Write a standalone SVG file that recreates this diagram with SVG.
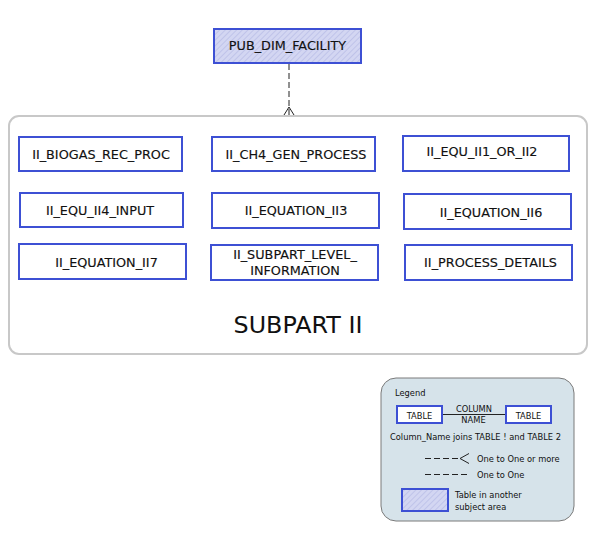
<svg xmlns="http://www.w3.org/2000/svg" width="591" height="541" viewBox="0 0 591 541">
<defs>
<pattern id="hatch" patternUnits="userSpaceOnUse" width="4" height="4" patternTransform="rotate(45)">
<rect width="4" height="4" fill="#d3d6f2"/>
<line x1="0" y1="0" x2="0" y2="4" stroke="#b9bde6" stroke-width="1.5"/>
</pattern>
<style>
.node{fill:#ffffff;stroke:#3d50d4;stroke-width:2}
.ext{fill:url(#hatch);stroke:#3d50d4;stroke-width:2}
.t{font-family:"DejaVu Sans",Verdana,sans-serif;font-size:12.8px;fill:#111;text-anchor:middle;stroke:#111;stroke-width:0.15}
.lg{font-family:"DejaVu Sans",Verdana,sans-serif;font-size:8.3px;fill:#111}
.conn{fill:none;stroke:#222;stroke-width:1}
.dash{stroke-dasharray:6,3}
</style>
</defs>
<rect width="591" height="541" fill="#ffffff"/>
<g id="subpart-ii">
<rect x="9" y="116" width="578" height="238" rx="10" fill="#ffffff" stroke="#c8c8c8" stroke-width="2"/>
<text x="298" y="333" font-family="DejaVu Sans,Verdana,sans-serif" font-size="23.8" fill="#111" text-anchor="middle">SUBPART II</text>
</g>
<g id="pub-dim-facility">
<rect class="ext" x="214" y="29" width="147" height="34"/>
<text class="t" x="287.5" y="49.5">PUB_DIM_FACILITY</text>
</g>
<g id="connectors">
<line class="conn dash" x1="289" y1="64" x2="289" y2="115"/>
<polyline class="conn" points="284,115 289,107 294,115"/>
</g>
<g id="ii-biogas-rec-proc"><rect class="node" x="19" y="137" width="163" height="34"/><text class="t" x="101" y="158.5">II_BIOGAS_REC_PROC</text></g>
<g id="ii-ch4-gen-process"><rect class="node" x="212" y="137" width="163" height="34"/><text class="t" x="296" y="158.5">II_CH4_GEN_PROCESS</text></g>
<g id="ii-equ-ii1-or-ii2"><rect class="node" x="403" y="136" width="166" height="35"/><text class="t" x="482" y="156">II_EQU_II1_OR_II2</text></g>
<g id="ii-equ-ii4-input"><rect class="node" x="20" y="193" width="163" height="34"/><text class="t" x="100" y="214.5">II_EQU_II4_INPUT</text></g>
<g id="ii-equation-ii3"><rect class="node" x="212" y="193" width="167" height="35"/><text class="t" x="296" y="214.5">II_EQUATION_II3</text></g>
<g id="ii-equation-ii6"><rect class="node" x="404" y="194" width="167" height="35"/><text class="t" x="491" y="216.5">II_EQUATION_II6</text></g>
<g id="ii-equation-ii7"><rect class="node" x="19" y="244" width="167" height="35"/><text class="t" x="106.5" y="267">II_EQUATION_II7</text></g>
<g id="ii-subpart-level-information"><rect class="node" x="211" y="245" width="167" height="35"/><text class="t" x="295" y="259">II_SUBPART_LEVEL_</text><text class="t" x="295" y="275">INFORMATION</text></g>
<g id="ii-process-details"><rect class="node" x="405" y="245" width="167" height="35"/><text class="t" x="490.5" y="266.5">II_PROCESS_DETAILS</text></g>
<g id="legend">
<rect x="381" y="378" width="193" height="143" rx="15" fill="#d6e3ea" stroke="#7a7a7a" stroke-width="1"/>
<text class="lg" x="395" y="396">Legend</text>
<rect x="397" y="406" width="45" height="17" fill="#ffffff" stroke="#3d50d4" stroke-width="2"/>
<text class="lg" x="419.5" y="418.5" text-anchor="middle" font-size="10.5">TABLE</text>
<rect x="506" y="406" width="45" height="17" fill="#ffffff" stroke="#3d50d4" stroke-width="2"/>
<text class="lg" x="528.5" y="418.5" text-anchor="middle" font-size="10.5">TABLE</text>
<line x1="443" y1="414.5" x2="505" y2="414.5" stroke="#222" stroke-width="1"/>
<text class="lg" x="474" y="412" text-anchor="middle">COLUMN</text>
<text class="lg" x="473.5" y="423" text-anchor="middle">NAME</text>
<text class="lg" x="390" y="440">Column_Name joins TABLE ! and TABLE 2</text>
<line class="conn dash" x1="425" y1="458.5" x2="460" y2="458.5"/>
<polyline class="conn" points="469,453.5 460,458.5 469,463.5"/>
<text class="lg" x="477" y="461.5">One to One or more</text>
<line class="conn dash" x1="425" y1="474.5" x2="469" y2="474.5"/>
<text class="lg" x="477" y="477.5">One to One</text>
<rect class="ext" x="402" y="489" width="46" height="22"/>
<text class="lg" x="455" y="498">Table in another</text>
<text class="lg" x="455" y="510">subject area</text>
</g>
</svg>
